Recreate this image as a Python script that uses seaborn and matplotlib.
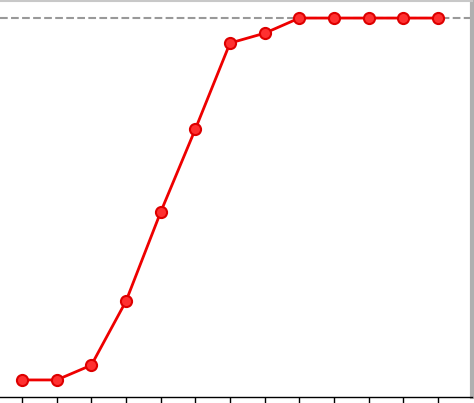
import numpy as np
import pandas as pd
import matplotlib
matplotlib.use('Agg')
import matplotlib.pyplot as plt
import seaborn as sns

# values
steps = [1, 2, 3, 4, 5, 6, 7, 8, 9, 10, 11, 12, 13]
score = [0.045, 0.045, 0.084, 0.253, 0.488, 0.707, 0.934, 0.960, 1.0, 1.0, 1.0, 1.0, 1.0]
target = 1.0

df = pd.DataFrame({'step': steps, 'score': score})

sns.set_style('white')
fig = plt.figure(figsize=(4.74, 4.03), dpi=100)
ax = fig.add_axes([0.0, 6 / 403, 472 / 474, 396 / 403])

sns.lineplot(data=df, x='step', y='score', ax=ax, color='#ee0000', linewidth=2,
             marker='o', markersize=8, markeredgecolor='#dd0000',
             markeredgewidth=1.5, markerfacecolor='#ff3030', zorder=3)
ax.axhline(target, color='#999999', linestyle='--', linewidth=1.5, zorder=1)

ax.set_xlim(0.365, 13.98)
ax.set_ylim(0, 1.045)
ax.set_xticks(steps)
ax.set_xticklabels([])
ax.set_yticks([])
ax.set_xlabel('')
ax.set_ylabel('')
ax.tick_params(axis='x', direction='out', length=6, width=1, color='black', bottom=True)

ax.spines['left'].set_visible(False)
ax.spines['bottom'].set_color('black')
ax.spines['bottom'].set_linewidth(1)
ax.spines['top'].set_color('#c8c8c8')
ax.spines['top'].set_linewidth(1.5)
ax.spines['right'].set_color('#b0b0b0')
ax.spines['right'].set_linewidth(3)

fig.savefig('out.png', dpi=100)
